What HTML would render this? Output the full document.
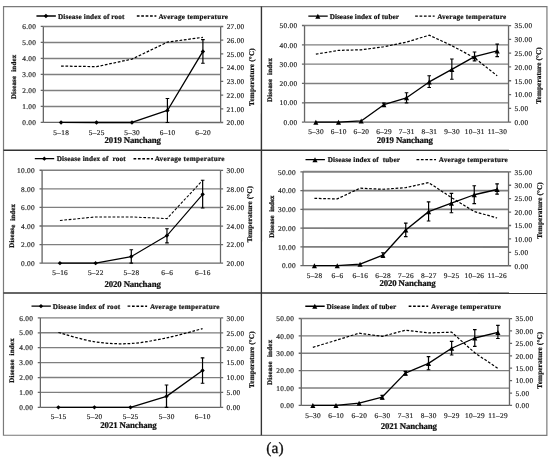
<!DOCTYPE html>
<html><head><meta charset="utf-8"><title>Disease index and average temperature, Nanchang 2019–2021</title>
<style>
html,body{margin:0;padding:0;background:#fff;}
body{width:550px;height:461px;overflow:hidden;}
svg{display:block;}
text{font-family:'Liberation Serif', 'Times New Roman', serif;text-rendering:geometricPrecision;}
.tk{font-size:7.3px;fill:#1e1e1e;letter-spacing:0.3px;stroke:#1e1e1e;stroke-width:0.18px;}
.lg{font-size:7.2px;font-weight:bold;fill:#111;stroke:#111;stroke-width:0.22px;}
.tt{font-size:8.8px;font-weight:bold;fill:#111;stroke:#111;stroke-width:0.22px;}
.at{font-size:7.2px;font-weight:bold;fill:#111;stroke:#111;stroke-width:0.22px;}
.at2{font-size:6.9px;font-weight:bold;fill:#111;stroke:#111;stroke-width:0.25px;}
.cap{font-size:15.5px;fill:#111;stroke:#111;stroke-width:0.3px;}
</style></head><body>
<svg width="550" height="461" viewBox="0 0 550 461">
<rect x="0" y="0" width="550" height="461" fill="#fff"/>
<g transform="rotate(0.01 275 230)">
<rect x="3.5" y="6.6" width="543.4" height="428.7" fill="none" stroke="#7a7a7a" stroke-width="1.2"/>
<line x1="261.4" y1="6.6" x2="261.4" y2="435.3" stroke="#333" stroke-width="1.4"/>
<line x1="3.5" y1="150.3" x2="546.9" y2="150.3" stroke="#333" stroke-width="1.4"/>
<line x1="3.5" y1="293.1" x2="546.9" y2="293.1" stroke="#333" stroke-width="1.5"/>
<line x1="43.30" y1="106.50" x2="220.60" y2="106.50" stroke="#7f7f7f" stroke-width="1.35"/>
<line x1="43.30" y1="90.50" x2="220.60" y2="90.50" stroke="#7f7f7f" stroke-width="1.35"/>
<line x1="43.30" y1="74.50" x2="220.60" y2="74.50" stroke="#7f7f7f" stroke-width="1.35"/>
<line x1="43.30" y1="58.50" x2="220.60" y2="58.50" stroke="#7f7f7f" stroke-width="1.35"/>
<line x1="43.30" y1="42.50" x2="220.60" y2="42.50" stroke="#7f7f7f" stroke-width="1.35"/>
<line x1="43.30" y1="26.50" x2="220.60" y2="26.50" stroke="#7f7f7f" stroke-width="1.35"/>
<line x1="43.30" y1="26.50" x2="43.30" y2="122.50" stroke="#666666" stroke-width="1.3"/>
<line x1="220.60" y1="26.50" x2="220.60" y2="122.50" stroke="#666666" stroke-width="1.3"/>
<line x1="43.30" y1="122.50" x2="220.60" y2="122.50" stroke="#666666" stroke-width="1.3"/>
<line x1="40.70" y1="122.50" x2="43.30" y2="122.50" stroke="#666666" stroke-width="1.3"/>
<text transform="translate(36.20,125.20)" class="tk" text-anchor="end" xml:space="preserve">0.00</text>
<line x1="40.70" y1="106.50" x2="43.30" y2="106.50" stroke="#666666" stroke-width="1.3"/>
<text transform="translate(36.20,109.20)" class="tk" text-anchor="end" xml:space="preserve">1.00</text>
<line x1="40.70" y1="90.50" x2="43.30" y2="90.50" stroke="#666666" stroke-width="1.3"/>
<text transform="translate(36.20,93.20)" class="tk" text-anchor="end" xml:space="preserve">2.00</text>
<line x1="40.70" y1="74.50" x2="43.30" y2="74.50" stroke="#666666" stroke-width="1.3"/>
<text transform="translate(36.20,77.20)" class="tk" text-anchor="end" xml:space="preserve">3.00</text>
<line x1="40.70" y1="58.50" x2="43.30" y2="58.50" stroke="#666666" stroke-width="1.3"/>
<text transform="translate(36.20,61.20)" class="tk" text-anchor="end" xml:space="preserve">4.00</text>
<line x1="40.70" y1="42.50" x2="43.30" y2="42.50" stroke="#666666" stroke-width="1.3"/>
<text transform="translate(36.20,45.20)" class="tk" text-anchor="end" xml:space="preserve">5.00</text>
<line x1="40.70" y1="26.50" x2="43.30" y2="26.50" stroke="#666666" stroke-width="1.3"/>
<text transform="translate(36.20,29.20)" class="tk" text-anchor="end" xml:space="preserve">6.00</text>
<line x1="220.60" y1="122.50" x2="223.20" y2="122.50" stroke="#666666" stroke-width="1.3"/>
<text transform="translate(226.60,125.30)" class="tk" xml:space="preserve">20.00</text>
<line x1="220.60" y1="108.79" x2="223.20" y2="108.79" stroke="#666666" stroke-width="1.3"/>
<text transform="translate(226.60,111.59)" class="tk" xml:space="preserve">21.00</text>
<line x1="220.60" y1="95.07" x2="223.20" y2="95.07" stroke="#666666" stroke-width="1.3"/>
<text transform="translate(226.60,97.87)" class="tk" xml:space="preserve">22.00</text>
<line x1="220.60" y1="81.36" x2="223.20" y2="81.36" stroke="#666666" stroke-width="1.3"/>
<text transform="translate(226.60,84.16)" class="tk" xml:space="preserve">23.00</text>
<line x1="220.60" y1="67.64" x2="223.20" y2="67.64" stroke="#666666" stroke-width="1.3"/>
<text transform="translate(226.60,70.44)" class="tk" xml:space="preserve">24.00</text>
<line x1="220.60" y1="53.93" x2="223.20" y2="53.93" stroke="#666666" stroke-width="1.3"/>
<text transform="translate(226.60,56.73)" class="tk" xml:space="preserve">25.00</text>
<line x1="220.60" y1="40.21" x2="223.20" y2="40.21" stroke="#666666" stroke-width="1.3"/>
<text transform="translate(226.60,43.01)" class="tk" xml:space="preserve">26.00</text>
<line x1="220.60" y1="26.50" x2="223.20" y2="26.50" stroke="#666666" stroke-width="1.3"/>
<text transform="translate(226.60,29.30)" class="tk" xml:space="preserve">27.00</text>
<text transform="translate(61.23,134.60)" class="tk" text-anchor="middle" xml:space="preserve">5–18</text>
<text transform="translate(96.69,134.60)" class="tk" text-anchor="middle" xml:space="preserve">5–25</text>
<text transform="translate(132.15,134.60)" class="tk" text-anchor="middle" xml:space="preserve">5–30</text>
<text transform="translate(167.61,134.60)" class="tk" text-anchor="middle" xml:space="preserve">6–10</text>
<text transform="translate(203.07,134.60)" class="tk" text-anchor="middle" xml:space="preserve">6–20</text>
<path d="M61.03,66.13 L96.49,66.68 L131.95,59.14 L167.41,42.13 L202.87,37.33" fill="none" stroke="#000" stroke-width="1.22" stroke-dasharray="2.7,1.7"/>
<line x1="167.41" y1="122.50" x2="167.41" y2="98.50" stroke="#000" stroke-width="1.2"/>
<line x1="165.61" y1="122.50" x2="169.21" y2="122.50" stroke="#000" stroke-width="1.15"/>
<line x1="165.61" y1="98.50" x2="169.21" y2="98.50" stroke="#000" stroke-width="1.15"/>
<line x1="202.87" y1="63.30" x2="202.87" y2="39.62" stroke="#000" stroke-width="1.2"/>
<line x1="201.07" y1="63.30" x2="204.67" y2="63.30" stroke="#000" stroke-width="1.15"/>
<line x1="201.07" y1="39.62" x2="204.67" y2="39.62" stroke="#000" stroke-width="1.15"/>
<polyline points="61.03,122.50 96.49,122.50 131.95,122.50 167.41,110.50 202.87,51.46" fill="none" stroke="#000" stroke-width="1.32" stroke-linejoin="round"/>
<polygon points="61.03,120.30 63.23,122.50 61.03,124.70 58.83,122.50" fill="#000"/>
<polygon points="96.49,120.30 98.69,122.50 96.49,124.70 94.29,122.50" fill="#000"/>
<polygon points="131.95,120.30 134.15,122.50 131.95,124.70 129.75,122.50" fill="#000"/>
<polygon points="167.41,108.30 169.61,110.50 167.41,112.70 165.21,110.50" fill="#000"/>
<polygon points="202.87,49.26 205.07,51.46 202.87,53.66 200.67,51.46" fill="#000"/>
<line x1="36.40" y1="16.00" x2="55.80" y2="16.00" stroke="#000" stroke-width="1.4"/>
<polygon points="45.90,13.80 48.10,16.00 45.90,18.20 43.70,16.00" fill="#000"/>
<text transform="translate(58.00,18.80)" class="lg" textLength="66.40" lengthAdjust="spacing" xml:space="preserve">Disease index of root</text>
<line x1="136.80" y1="16.00" x2="156.30" y2="16.00" stroke="#000" stroke-width="1.4" stroke-dasharray="2.7,1.7"/>
<text transform="translate(158.40,18.80)" class="lg" textLength="69.50" lengthAdjust="spacing" xml:space="preserve">Average temperature</text>
<text transform="translate(132.70,143.20)" class="tt" text-anchor="middle" textLength="56.20" lengthAdjust="spacing" xml:space="preserve">2019 Nanchang</text>
<text transform="translate(16.00,77.00) rotate(-90)" class="at2" text-anchor="middle" textLength="44.30" lengthAdjust="spacing" xml:space="preserve">Disease  index</text>
<text transform="translate(254.20,77.10) rotate(-90)" class="at" text-anchor="middle" textLength="57.60" lengthAdjust="spacing" xml:space="preserve">Temperature (°C)</text>
<line x1="304.50" y1="102.78" x2="508.50" y2="102.78" stroke="#7f7f7f" stroke-width="1.35"/>
<line x1="304.50" y1="83.46" x2="508.50" y2="83.46" stroke="#7f7f7f" stroke-width="1.35"/>
<line x1="304.50" y1="64.14" x2="508.50" y2="64.14" stroke="#7f7f7f" stroke-width="1.35"/>
<line x1="304.50" y1="44.82" x2="508.50" y2="44.82" stroke="#7f7f7f" stroke-width="1.35"/>
<line x1="304.50" y1="25.50" x2="508.50" y2="25.50" stroke="#7f7f7f" stroke-width="1.35"/>
<line x1="304.50" y1="25.50" x2="304.50" y2="122.10" stroke="#666666" stroke-width="1.3"/>
<line x1="508.50" y1="25.50" x2="508.50" y2="122.10" stroke="#666666" stroke-width="1.3"/>
<line x1="304.50" y1="122.10" x2="508.50" y2="122.10" stroke="#666666" stroke-width="1.3"/>
<line x1="301.90" y1="122.10" x2="304.50" y2="122.10" stroke="#666666" stroke-width="1.3"/>
<text transform="translate(297.40,124.80)" class="tk" text-anchor="end" xml:space="preserve">0.00</text>
<line x1="301.90" y1="102.78" x2="304.50" y2="102.78" stroke="#666666" stroke-width="1.3"/>
<text transform="translate(297.40,105.48)" class="tk" text-anchor="end" xml:space="preserve">10.00</text>
<line x1="301.90" y1="83.46" x2="304.50" y2="83.46" stroke="#666666" stroke-width="1.3"/>
<text transform="translate(297.40,86.16)" class="tk" text-anchor="end" xml:space="preserve">20.00</text>
<line x1="301.90" y1="64.14" x2="304.50" y2="64.14" stroke="#666666" stroke-width="1.3"/>
<text transform="translate(297.40,66.84)" class="tk" text-anchor="end" xml:space="preserve">30.00</text>
<line x1="301.90" y1="44.82" x2="304.50" y2="44.82" stroke="#666666" stroke-width="1.3"/>
<text transform="translate(297.40,47.52)" class="tk" text-anchor="end" xml:space="preserve">40.00</text>
<line x1="301.90" y1="25.50" x2="304.50" y2="25.50" stroke="#666666" stroke-width="1.3"/>
<text transform="translate(297.40,28.20)" class="tk" text-anchor="end" xml:space="preserve">50.00</text>
<line x1="508.50" y1="122.10" x2="511.10" y2="122.10" stroke="#666666" stroke-width="1.3"/>
<text transform="translate(514.50,124.90)" class="tk" xml:space="preserve">0.00</text>
<line x1="508.50" y1="108.30" x2="511.10" y2="108.30" stroke="#666666" stroke-width="1.3"/>
<text transform="translate(514.50,111.10)" class="tk" xml:space="preserve">5.00</text>
<line x1="508.50" y1="94.50" x2="511.10" y2="94.50" stroke="#666666" stroke-width="1.3"/>
<text transform="translate(514.50,97.30)" class="tk" xml:space="preserve">10.00</text>
<line x1="508.50" y1="80.70" x2="511.10" y2="80.70" stroke="#666666" stroke-width="1.3"/>
<text transform="translate(514.50,83.50)" class="tk" xml:space="preserve">15.00</text>
<line x1="508.50" y1="66.90" x2="511.10" y2="66.90" stroke="#666666" stroke-width="1.3"/>
<text transform="translate(514.50,69.70)" class="tk" xml:space="preserve">20.00</text>
<line x1="508.50" y1="53.10" x2="511.10" y2="53.10" stroke="#666666" stroke-width="1.3"/>
<text transform="translate(514.50,55.90)" class="tk" xml:space="preserve">25.00</text>
<line x1="508.50" y1="39.30" x2="511.10" y2="39.30" stroke="#666666" stroke-width="1.3"/>
<text transform="translate(514.50,42.10)" class="tk" xml:space="preserve">30.00</text>
<line x1="508.50" y1="25.50" x2="511.10" y2="25.50" stroke="#666666" stroke-width="1.3"/>
<text transform="translate(514.50,28.30)" class="tk" xml:space="preserve">35.00</text>
<text transform="translate(316.03,134.20)" class="tk" text-anchor="middle" xml:space="preserve">5–30</text>
<text transform="translate(338.70,134.20)" class="tk" text-anchor="middle" xml:space="preserve">6–10</text>
<text transform="translate(361.37,134.20)" class="tk" text-anchor="middle" xml:space="preserve">6–20</text>
<text transform="translate(384.03,134.20)" class="tk" text-anchor="middle" xml:space="preserve">6–29</text>
<text transform="translate(406.70,134.20)" class="tk" text-anchor="middle" xml:space="preserve">7–31</text>
<text transform="translate(429.37,134.20)" class="tk" text-anchor="middle" xml:space="preserve">8–31</text>
<text transform="translate(452.03,134.20)" class="tk" text-anchor="middle" xml:space="preserve">9–30</text>
<text transform="translate(474.70,134.20)" class="tk" text-anchor="middle" xml:space="preserve">10–31</text>
<text transform="translate(497.37,134.20)" class="tk" text-anchor="middle" xml:space="preserve">11–30</text>
<path d="M315.83,54.20 L338.50,50.34 L361.17,49.79 L383.83,46.75 L406.50,42.06 L429.17,35.16 L451.83,45.65 L474.50,57.79 L497.17,75.73" fill="none" stroke="#000" stroke-width="1.22" stroke-dasharray="2.7,1.7"/>
<line x1="383.83" y1="106.26" x2="383.83" y2="103.17" stroke="#000" stroke-width="1.2"/>
<line x1="382.03" y1="106.26" x2="385.63" y2="106.26" stroke="#000" stroke-width="1.15"/>
<line x1="382.03" y1="103.17" x2="385.63" y2="103.17" stroke="#000" stroke-width="1.15"/>
<line x1="406.50" y1="102.78" x2="406.50" y2="92.73" stroke="#000" stroke-width="1.2"/>
<line x1="404.70" y1="102.78" x2="408.30" y2="102.78" stroke="#000" stroke-width="1.15"/>
<line x1="404.70" y1="92.73" x2="408.30" y2="92.73" stroke="#000" stroke-width="1.15"/>
<line x1="429.17" y1="87.52" x2="429.17" y2="75.73" stroke="#000" stroke-width="1.2"/>
<line x1="427.37" y1="87.52" x2="430.97" y2="87.52" stroke="#000" stroke-width="1.15"/>
<line x1="427.37" y1="75.73" x2="430.97" y2="75.73" stroke="#000" stroke-width="1.15"/>
<line x1="451.83" y1="79.21" x2="451.83" y2="58.92" stroke="#000" stroke-width="1.2"/>
<line x1="450.03" y1="79.21" x2="453.63" y2="79.21" stroke="#000" stroke-width="1.15"/>
<line x1="450.03" y1="58.92" x2="453.63" y2="58.92" stroke="#000" stroke-width="1.15"/>
<line x1="474.50" y1="60.86" x2="474.50" y2="51.97" stroke="#000" stroke-width="1.2"/>
<line x1="472.70" y1="60.86" x2="476.30" y2="60.86" stroke="#000" stroke-width="1.15"/>
<line x1="472.70" y1="51.97" x2="476.30" y2="51.97" stroke="#000" stroke-width="1.15"/>
<line x1="497.17" y1="56.61" x2="497.17" y2="44.05" stroke="#000" stroke-width="1.2"/>
<line x1="495.37" y1="56.61" x2="498.97" y2="56.61" stroke="#000" stroke-width="1.15"/>
<line x1="495.37" y1="44.05" x2="498.97" y2="44.05" stroke="#000" stroke-width="1.15"/>
<polyline points="315.83,122.10 338.50,122.10 361.17,120.94 383.83,104.71 406.50,97.76 429.17,81.91 451.83,69.36 474.50,56.61 497.17,50.81" fill="none" stroke="#000" stroke-width="1.32" stroke-linejoin="round"/>
<polygon points="315.83,119.68 318.38,124.65 313.28,124.65" fill="#000"/>
<polygon points="338.50,119.68 341.05,124.65 335.95,124.65" fill="#000"/>
<polygon points="361.17,118.52 363.72,123.49 358.62,123.49" fill="#000"/>
<polygon points="383.83,102.29 386.38,107.26 381.28,107.26" fill="#000"/>
<polygon points="406.50,95.33 409.05,100.31 403.95,100.31" fill="#000"/>
<polygon points="429.17,79.49 431.72,84.46 426.62,84.46" fill="#000"/>
<polygon points="451.83,66.93 454.38,71.91 449.28,71.91" fill="#000"/>
<polygon points="474.50,54.18 477.05,59.16 471.95,59.16" fill="#000"/>
<polygon points="497.17,48.39 499.72,53.36 494.62,53.36" fill="#000"/>
<line x1="308.30" y1="16.10" x2="327.70" y2="16.10" stroke="#000" stroke-width="1.4"/>
<polygon points="317.80,13.68 320.35,18.65 315.25,18.65" fill="#000"/>
<text transform="translate(329.60,18.90)" class="lg" textLength="69.30" lengthAdjust="spacing" xml:space="preserve">Disease index of tuber</text>
<line x1="415.10" y1="16.10" x2="434.60" y2="16.10" stroke="#000" stroke-width="1.4" stroke-dasharray="2.7,1.7"/>
<text transform="translate(437.10,18.90)" class="lg" textLength="69.10" lengthAdjust="spacing" xml:space="preserve">Average temperature</text>
<text transform="translate(404.90,143.30)" class="tt" text-anchor="middle" textLength="56.20" lengthAdjust="spacing" xml:space="preserve">2019 Nanchang</text>
<text transform="translate(272.40,80.00) rotate(-90)" class="at2" text-anchor="middle" textLength="43.90" lengthAdjust="spacing" xml:space="preserve">Disease  index</text>
<text transform="translate(541.40,75.50) rotate(-90)" class="at" text-anchor="middle" textLength="56.30" lengthAdjust="spacing" xml:space="preserve">Temperature (°C)</text>
<line x1="42.10" y1="244.62" x2="220.50" y2="244.62" stroke="#7f7f7f" stroke-width="1.35"/>
<line x1="42.10" y1="226.04" x2="220.50" y2="226.04" stroke="#7f7f7f" stroke-width="1.35"/>
<line x1="42.10" y1="207.46" x2="220.50" y2="207.46" stroke="#7f7f7f" stroke-width="1.35"/>
<line x1="42.10" y1="188.88" x2="220.50" y2="188.88" stroke="#7f7f7f" stroke-width="1.35"/>
<line x1="42.10" y1="170.30" x2="220.50" y2="170.30" stroke="#7f7f7f" stroke-width="1.35"/>
<line x1="42.10" y1="170.30" x2="42.10" y2="263.20" stroke="#666666" stroke-width="1.3"/>
<line x1="220.50" y1="170.30" x2="220.50" y2="263.20" stroke="#666666" stroke-width="1.3"/>
<line x1="42.10" y1="263.20" x2="220.50" y2="263.20" stroke="#666666" stroke-width="1.3"/>
<line x1="39.50" y1="263.20" x2="42.10" y2="263.20" stroke="#666666" stroke-width="1.3"/>
<text transform="translate(35.00,265.90)" class="tk" text-anchor="end" xml:space="preserve">0.00</text>
<line x1="39.50" y1="244.62" x2="42.10" y2="244.62" stroke="#666666" stroke-width="1.3"/>
<text transform="translate(35.00,247.32)" class="tk" text-anchor="end" xml:space="preserve">2.00</text>
<line x1="39.50" y1="226.04" x2="42.10" y2="226.04" stroke="#666666" stroke-width="1.3"/>
<text transform="translate(35.00,228.74)" class="tk" text-anchor="end" xml:space="preserve">4.00</text>
<line x1="39.50" y1="207.46" x2="42.10" y2="207.46" stroke="#666666" stroke-width="1.3"/>
<text transform="translate(35.00,210.16)" class="tk" text-anchor="end" xml:space="preserve">6.00</text>
<line x1="39.50" y1="188.88" x2="42.10" y2="188.88" stroke="#666666" stroke-width="1.3"/>
<text transform="translate(35.00,191.58)" class="tk" text-anchor="end" xml:space="preserve">8.00</text>
<line x1="39.50" y1="170.30" x2="42.10" y2="170.30" stroke="#666666" stroke-width="1.3"/>
<text transform="translate(35.00,173.00)" class="tk" text-anchor="end" xml:space="preserve">10.00</text>
<line x1="220.50" y1="263.20" x2="223.10" y2="263.20" stroke="#666666" stroke-width="1.3"/>
<text transform="translate(226.50,266.00)" class="tk" xml:space="preserve">20.00</text>
<line x1="220.50" y1="244.62" x2="223.10" y2="244.62" stroke="#666666" stroke-width="1.3"/>
<text transform="translate(226.50,247.42)" class="tk" xml:space="preserve">22.00</text>
<line x1="220.50" y1="226.04" x2="223.10" y2="226.04" stroke="#666666" stroke-width="1.3"/>
<text transform="translate(226.50,228.84)" class="tk" xml:space="preserve">24.00</text>
<line x1="220.50" y1="207.46" x2="223.10" y2="207.46" stroke="#666666" stroke-width="1.3"/>
<text transform="translate(226.50,210.26)" class="tk" xml:space="preserve">26.00</text>
<line x1="220.50" y1="188.88" x2="223.10" y2="188.88" stroke="#666666" stroke-width="1.3"/>
<text transform="translate(226.50,191.68)" class="tk" xml:space="preserve">28.00</text>
<line x1="220.50" y1="170.30" x2="223.10" y2="170.30" stroke="#666666" stroke-width="1.3"/>
<text transform="translate(226.50,173.10)" class="tk" xml:space="preserve">30.00</text>
<text transform="translate(60.14,275.30)" class="tk" text-anchor="middle" xml:space="preserve">5–16</text>
<text transform="translate(95.82,275.30)" class="tk" text-anchor="middle" xml:space="preserve">5–22</text>
<text transform="translate(131.50,275.30)" class="tk" text-anchor="middle" xml:space="preserve">5–28</text>
<text transform="translate(167.18,275.30)" class="tk" text-anchor="middle" xml:space="preserve">6–6</text>
<text transform="translate(202.86,275.30)" class="tk" text-anchor="middle" xml:space="preserve">6–16</text>
<path d="M59.94,220.56 L95.62,216.94 L131.30,216.94 L166.98,218.61 L202.66,180.24" fill="none" stroke="#000" stroke-width="1.05" stroke-dasharray="2.7,1.7"/>
<line x1="131.30" y1="263.20" x2="131.30" y2="249.73" stroke="#000" stroke-width="1.2"/>
<line x1="129.50" y1="263.20" x2="133.10" y2="263.20" stroke="#000" stroke-width="1.15"/>
<line x1="129.50" y1="249.73" x2="133.10" y2="249.73" stroke="#000" stroke-width="1.15"/>
<line x1="166.98" y1="242.95" x2="166.98" y2="228.73" stroke="#000" stroke-width="1.2"/>
<line x1="165.18" y1="242.95" x2="168.78" y2="242.95" stroke="#000" stroke-width="1.15"/>
<line x1="165.18" y1="228.73" x2="168.78" y2="228.73" stroke="#000" stroke-width="1.15"/>
<line x1="202.66" y1="208.02" x2="202.66" y2="180.24" stroke="#000" stroke-width="1.2"/>
<line x1="200.86" y1="208.02" x2="204.46" y2="208.02" stroke="#000" stroke-width="1.15"/>
<line x1="200.86" y1="180.24" x2="204.46" y2="180.24" stroke="#000" stroke-width="1.15"/>
<polyline points="59.94,263.20 95.62,263.20 131.30,256.60 166.98,235.61 202.66,194.36" fill="none" stroke="#000" stroke-width="1.15" stroke-linejoin="round"/>
<polygon points="59.94,261.00 62.14,263.20 59.94,265.40 57.74,263.20" fill="#000"/>
<polygon points="95.62,261.00 97.82,263.20 95.62,265.40 93.42,263.20" fill="#000"/>
<polygon points="131.30,254.40 133.50,256.60 131.30,258.80 129.10,256.60" fill="#000"/>
<polygon points="166.98,233.41 169.18,235.61 166.98,237.81 164.78,235.61" fill="#000"/>
<polygon points="202.66,192.16 204.86,194.36 202.66,196.56 200.46,194.36" fill="#000"/>
<line x1="34.80" y1="158.70" x2="54.20" y2="158.70" stroke="#000" stroke-width="1.4"/>
<polygon points="44.30,156.50 46.50,158.70 44.30,160.90 42.10,158.70" fill="#000"/>
<text transform="translate(56.70,161.50)" class="lg" textLength="68.90" lengthAdjust="spacing" xml:space="preserve">Disease index of  root</text>
<line x1="133.50" y1="158.70" x2="153.00" y2="158.70" stroke="#000" stroke-width="1.4" stroke-dasharray="2.7,1.7"/>
<text transform="translate(154.70,161.50)" class="lg" textLength="69.80" lengthAdjust="spacing" xml:space="preserve">Average temperature</text>
<text transform="translate(132.70,286.60)" class="tt" text-anchor="middle" textLength="56.20" lengthAdjust="spacing" xml:space="preserve">2020 Nanchang</text>
<text transform="translate(14.50,225.90) rotate(-90)" class="at2" text-anchor="middle" textLength="43.60" lengthAdjust="spacing" xml:space="preserve">Disease  index</text>
<text transform="translate(252.40,214.20) rotate(-90)" class="at" text-anchor="middle" textLength="56.30" lengthAdjust="spacing" xml:space="preserve">Temperature (°C)</text>
<line x1="303.00" y1="246.92" x2="508.50" y2="246.92" stroke="#7f7f7f" stroke-width="1.9"/>
<line x1="303.00" y1="228.14" x2="508.50" y2="228.14" stroke="#7f7f7f" stroke-width="1.9"/>
<line x1="303.00" y1="209.36" x2="508.50" y2="209.36" stroke="#7f7f7f" stroke-width="1.9"/>
<line x1="303.00" y1="190.58" x2="508.50" y2="190.58" stroke="#7f7f7f" stroke-width="1.9"/>
<line x1="303.00" y1="171.80" x2="508.50" y2="171.80" stroke="#7f7f7f" stroke-width="1.9"/>
<line x1="303.00" y1="171.80" x2="303.00" y2="265.70" stroke="#666666" stroke-width="1.3"/>
<line x1="508.50" y1="171.80" x2="508.50" y2="265.70" stroke="#666666" stroke-width="1.3"/>
<line x1="303.00" y1="265.70" x2="508.50" y2="265.70" stroke="#666666" stroke-width="1.3"/>
<line x1="300.40" y1="265.70" x2="303.00" y2="265.70" stroke="#666666" stroke-width="1.3"/>
<text transform="translate(295.90,268.40)" class="tk" text-anchor="end" xml:space="preserve">0.00</text>
<line x1="300.40" y1="246.92" x2="303.00" y2="246.92" stroke="#666666" stroke-width="1.3"/>
<text transform="translate(295.90,249.62)" class="tk" text-anchor="end" xml:space="preserve">10.00</text>
<line x1="300.40" y1="228.14" x2="303.00" y2="228.14" stroke="#666666" stroke-width="1.3"/>
<text transform="translate(295.90,230.84)" class="tk" text-anchor="end" xml:space="preserve">20.00</text>
<line x1="300.40" y1="209.36" x2="303.00" y2="209.36" stroke="#666666" stroke-width="1.3"/>
<text transform="translate(295.90,212.06)" class="tk" text-anchor="end" xml:space="preserve">30.00</text>
<line x1="300.40" y1="190.58" x2="303.00" y2="190.58" stroke="#666666" stroke-width="1.3"/>
<text transform="translate(295.90,193.28)" class="tk" text-anchor="end" xml:space="preserve">40.00</text>
<line x1="300.40" y1="171.80" x2="303.00" y2="171.80" stroke="#666666" stroke-width="1.3"/>
<text transform="translate(295.90,174.50)" class="tk" text-anchor="end" xml:space="preserve">50.00</text>
<line x1="508.50" y1="265.70" x2="511.10" y2="265.70" stroke="#666666" stroke-width="1.3"/>
<text transform="translate(514.50,268.50)" class="tk" xml:space="preserve">0.00</text>
<line x1="508.50" y1="252.29" x2="511.10" y2="252.29" stroke="#666666" stroke-width="1.3"/>
<text transform="translate(514.50,255.09)" class="tk" xml:space="preserve">5.00</text>
<line x1="508.50" y1="238.87" x2="511.10" y2="238.87" stroke="#666666" stroke-width="1.3"/>
<text transform="translate(514.50,241.67)" class="tk" xml:space="preserve">10.00</text>
<line x1="508.50" y1="225.46" x2="511.10" y2="225.46" stroke="#666666" stroke-width="1.3"/>
<text transform="translate(514.50,228.26)" class="tk" xml:space="preserve">15.00</text>
<line x1="508.50" y1="212.04" x2="511.10" y2="212.04" stroke="#666666" stroke-width="1.3"/>
<text transform="translate(514.50,214.84)" class="tk" xml:space="preserve">20.00</text>
<line x1="508.50" y1="198.63" x2="511.10" y2="198.63" stroke="#666666" stroke-width="1.3"/>
<text transform="translate(514.50,201.43)" class="tk" xml:space="preserve">25.00</text>
<line x1="508.50" y1="185.21" x2="511.10" y2="185.21" stroke="#666666" stroke-width="1.3"/>
<text transform="translate(514.50,188.01)" class="tk" xml:space="preserve">30.00</text>
<line x1="508.50" y1="171.80" x2="511.10" y2="171.80" stroke="#666666" stroke-width="1.3"/>
<text transform="translate(514.50,174.60)" class="tk" xml:space="preserve">35.00</text>
<text transform="translate(314.62,277.80)" class="tk" text-anchor="middle" xml:space="preserve">5–28</text>
<text transform="translate(337.45,277.80)" class="tk" text-anchor="middle" xml:space="preserve">6–6</text>
<text transform="translate(360.28,277.80)" class="tk" text-anchor="middle" xml:space="preserve">6–16</text>
<text transform="translate(383.12,277.80)" class="tk" text-anchor="middle" xml:space="preserve">6–28</text>
<text transform="translate(405.95,277.80)" class="tk" text-anchor="middle" xml:space="preserve">7–26</text>
<text transform="translate(428.78,277.80)" class="tk" text-anchor="middle" xml:space="preserve">8–27</text>
<text transform="translate(451.62,277.80)" class="tk" text-anchor="middle" xml:space="preserve">9–25</text>
<text transform="translate(474.45,277.80)" class="tk" text-anchor="middle" xml:space="preserve">10–26</text>
<text transform="translate(497.28,277.80)" class="tk" text-anchor="middle" xml:space="preserve">11–26</text>
<path d="M314.42,198.36 L337.25,198.90 L360.08,188.17 L382.92,189.24 L405.75,187.63 L428.58,182.53 L451.42,197.56 L474.25,211.51 L497.08,217.95" fill="none" stroke="#000" stroke-width="1.22" stroke-dasharray="2.7,1.7"/>
<line x1="382.92" y1="257.44" x2="382.92" y2="252.74" stroke="#000" stroke-width="1.2"/>
<line x1="381.12" y1="257.44" x2="384.72" y2="257.44" stroke="#000" stroke-width="1.15"/>
<line x1="381.12" y1="252.74" x2="384.72" y2="252.74" stroke="#000" stroke-width="1.15"/>
<line x1="405.75" y1="236.59" x2="405.75" y2="223.07" stroke="#000" stroke-width="1.2"/>
<line x1="403.95" y1="236.59" x2="407.55" y2="236.59" stroke="#000" stroke-width="1.15"/>
<line x1="403.95" y1="223.07" x2="407.55" y2="223.07" stroke="#000" stroke-width="1.15"/>
<line x1="428.58" y1="221.00" x2="428.58" y2="201.85" stroke="#000" stroke-width="1.2"/>
<line x1="426.78" y1="221.00" x2="430.38" y2="221.00" stroke="#000" stroke-width="1.15"/>
<line x1="426.78" y1="201.85" x2="430.38" y2="201.85" stroke="#000" stroke-width="1.15"/>
<line x1="451.42" y1="212.74" x2="451.42" y2="193.40" stroke="#000" stroke-width="1.2"/>
<line x1="449.62" y1="212.74" x2="453.22" y2="212.74" stroke="#000" stroke-width="1.15"/>
<line x1="449.62" y1="193.40" x2="453.22" y2="193.40" stroke="#000" stroke-width="1.15"/>
<line x1="474.25" y1="203.54" x2="474.25" y2="185.70" stroke="#000" stroke-width="1.2"/>
<line x1="472.45" y1="203.54" x2="476.05" y2="203.54" stroke="#000" stroke-width="1.15"/>
<line x1="472.45" y1="185.70" x2="476.05" y2="185.70" stroke="#000" stroke-width="1.15"/>
<line x1="497.08" y1="194.15" x2="497.08" y2="183.82" stroke="#000" stroke-width="1.2"/>
<line x1="495.28" y1="194.15" x2="498.88" y2="194.15" stroke="#000" stroke-width="1.15"/>
<line x1="495.28" y1="183.82" x2="498.88" y2="183.82" stroke="#000" stroke-width="1.15"/>
<polyline points="314.42,265.70 337.25,265.70 360.08,264.20 382.92,255.18 405.75,230.02 428.58,211.61 451.42,203.16 474.25,194.71 497.08,189.45" fill="none" stroke="#000" stroke-width="1.32" stroke-linejoin="round"/>
<polygon points="314.42,263.28 316.97,268.25 311.87,268.25" fill="#000"/>
<polygon points="337.25,263.28 339.80,268.25 334.70,268.25" fill="#000"/>
<polygon points="360.08,261.78 362.63,266.75 357.53,266.75" fill="#000"/>
<polygon points="382.92,252.76 385.47,257.73 380.37,257.73" fill="#000"/>
<polygon points="405.75,227.60 408.30,232.57 403.20,232.57" fill="#000"/>
<polygon points="428.58,209.19 431.13,214.16 426.03,214.16" fill="#000"/>
<polygon points="451.42,200.74 453.97,205.71 448.87,205.71" fill="#000"/>
<polygon points="474.25,192.29 476.80,197.26 471.70,197.26" fill="#000"/>
<polygon points="497.08,187.03 499.63,192.00 494.53,192.00" fill="#000"/>
<line x1="305.50" y1="159.60" x2="324.90" y2="159.60" stroke="#000" stroke-width="1.4"/>
<polygon points="315.00,157.18 317.55,162.15 312.45,162.15" fill="#000"/>
<text transform="translate(327.80,162.40)" class="lg" textLength="72.10" lengthAdjust="spacing" xml:space="preserve">Disease index of  tuber</text>
<line x1="416.50" y1="159.60" x2="436.00" y2="159.60" stroke="#000" stroke-width="1.4" stroke-dasharray="2.7,1.7"/>
<text transform="translate(438.80,162.40)" class="lg" textLength="68.90" lengthAdjust="spacing" xml:space="preserve">Average temperature</text>
<text transform="translate(407.50,286.40)" class="tt" text-anchor="middle" textLength="56.20" lengthAdjust="spacing" xml:space="preserve">2020 Nanchang</text>
<text transform="translate(274.00,216.60) rotate(-90)" class="at2" text-anchor="middle" textLength="42.20" lengthAdjust="spacing" xml:space="preserve">Disease  index</text>
<text transform="translate(542.10,210.50) rotate(-90)" class="at" text-anchor="middle" textLength="56.40" lengthAdjust="spacing" xml:space="preserve">Temperature (°C)</text>
<line x1="40.40" y1="392.48" x2="220.60" y2="392.48" stroke="#7f7f7f" stroke-width="1.35"/>
<line x1="40.40" y1="377.57" x2="220.60" y2="377.57" stroke="#7f7f7f" stroke-width="1.35"/>
<line x1="40.40" y1="362.65" x2="220.60" y2="362.65" stroke="#7f7f7f" stroke-width="1.35"/>
<line x1="40.40" y1="347.73" x2="220.60" y2="347.73" stroke="#7f7f7f" stroke-width="1.35"/>
<line x1="40.40" y1="332.82" x2="220.60" y2="332.82" stroke="#7f7f7f" stroke-width="1.35"/>
<line x1="40.40" y1="317.90" x2="220.60" y2="317.90" stroke="#7f7f7f" stroke-width="1.35"/>
<line x1="40.40" y1="317.90" x2="40.40" y2="407.40" stroke="#666666" stroke-width="1.3"/>
<line x1="220.60" y1="317.90" x2="220.60" y2="407.40" stroke="#666666" stroke-width="1.3"/>
<line x1="40.40" y1="407.40" x2="220.60" y2="407.40" stroke="#666666" stroke-width="1.3"/>
<line x1="37.80" y1="407.40" x2="40.40" y2="407.40" stroke="#666666" stroke-width="1.3"/>
<text transform="translate(33.30,410.10)" class="tk" text-anchor="end" xml:space="preserve">0.00</text>
<line x1="37.80" y1="392.48" x2="40.40" y2="392.48" stroke="#666666" stroke-width="1.3"/>
<text transform="translate(33.30,395.18)" class="tk" text-anchor="end" xml:space="preserve">1.00</text>
<line x1="37.80" y1="377.57" x2="40.40" y2="377.57" stroke="#666666" stroke-width="1.3"/>
<text transform="translate(33.30,380.27)" class="tk" text-anchor="end" xml:space="preserve">2.00</text>
<line x1="37.80" y1="362.65" x2="40.40" y2="362.65" stroke="#666666" stroke-width="1.3"/>
<text transform="translate(33.30,365.35)" class="tk" text-anchor="end" xml:space="preserve">3.00</text>
<line x1="37.80" y1="347.73" x2="40.40" y2="347.73" stroke="#666666" stroke-width="1.3"/>
<text transform="translate(33.30,350.43)" class="tk" text-anchor="end" xml:space="preserve">4.00</text>
<line x1="37.80" y1="332.82" x2="40.40" y2="332.82" stroke="#666666" stroke-width="1.3"/>
<text transform="translate(33.30,335.52)" class="tk" text-anchor="end" xml:space="preserve">5.00</text>
<line x1="37.80" y1="317.90" x2="40.40" y2="317.90" stroke="#666666" stroke-width="1.3"/>
<text transform="translate(33.30,320.60)" class="tk" text-anchor="end" xml:space="preserve">6.00</text>
<line x1="220.60" y1="407.40" x2="223.20" y2="407.40" stroke="#666666" stroke-width="1.3"/>
<text transform="translate(226.60,410.20)" class="tk" xml:space="preserve">0.00</text>
<line x1="220.60" y1="392.48" x2="223.20" y2="392.48" stroke="#666666" stroke-width="1.3"/>
<text transform="translate(226.60,395.28)" class="tk" xml:space="preserve">5.00</text>
<line x1="220.60" y1="377.57" x2="223.20" y2="377.57" stroke="#666666" stroke-width="1.3"/>
<text transform="translate(226.60,380.37)" class="tk" xml:space="preserve">10.00</text>
<line x1="220.60" y1="362.65" x2="223.20" y2="362.65" stroke="#666666" stroke-width="1.3"/>
<text transform="translate(226.60,365.45)" class="tk" xml:space="preserve">15.00</text>
<line x1="220.60" y1="347.73" x2="223.20" y2="347.73" stroke="#666666" stroke-width="1.3"/>
<text transform="translate(226.60,350.53)" class="tk" xml:space="preserve">20.00</text>
<line x1="220.60" y1="332.82" x2="223.20" y2="332.82" stroke="#666666" stroke-width="1.3"/>
<text transform="translate(226.60,335.62)" class="tk" xml:space="preserve">25.00</text>
<line x1="220.60" y1="317.90" x2="223.20" y2="317.90" stroke="#666666" stroke-width="1.3"/>
<text transform="translate(226.60,320.70)" class="tk" xml:space="preserve">30.00</text>
<text transform="translate(58.62,419.50)" class="tk" text-anchor="middle" xml:space="preserve">5–15</text>
<text transform="translate(94.66,419.50)" class="tk" text-anchor="middle" xml:space="preserve">5–20</text>
<text transform="translate(130.70,419.50)" class="tk" text-anchor="middle" xml:space="preserve">5–25</text>
<text transform="translate(166.74,419.50)" class="tk" text-anchor="middle" xml:space="preserve">5–30</text>
<text transform="translate(202.78,419.50)" class="tk" text-anchor="middle" xml:space="preserve">6–10</text>
<path d="M58.42,332.52 C64.43,334.06 82.45,339.93 94.46,341.77 C106.47,343.61 118.49,344.20 130.50,343.56 C142.51,342.91 154.53,340.37 166.54,337.89 C178.55,335.40 196.57,330.18 202.58,328.64" fill="none" stroke="#000" stroke-width="1.22" stroke-dasharray="2.7,1.7"/>
<line x1="166.54" y1="407.40" x2="166.54" y2="385.02" stroke="#000" stroke-width="1.2"/>
<line x1="164.74" y1="407.40" x2="168.34" y2="407.40" stroke="#000" stroke-width="1.15"/>
<line x1="164.74" y1="385.02" x2="168.34" y2="385.02" stroke="#000" stroke-width="1.15"/>
<line x1="202.58" y1="383.23" x2="202.58" y2="357.88" stroke="#000" stroke-width="1.2"/>
<line x1="200.78" y1="383.23" x2="204.38" y2="383.23" stroke="#000" stroke-width="1.15"/>
<line x1="200.78" y1="357.88" x2="204.38" y2="357.88" stroke="#000" stroke-width="1.15"/>
<polyline points="58.42,407.40 94.46,407.40 130.50,407.40 166.54,396.36 202.58,370.56" fill="none" stroke="#000" stroke-width="1.32" stroke-linejoin="round"/>
<polygon points="58.42,405.20 60.62,407.40 58.42,409.60 56.22,407.40" fill="#000"/>
<polygon points="94.46,405.20 96.66,407.40 94.46,409.60 92.26,407.40" fill="#000"/>
<polygon points="130.50,405.20 132.70,407.40 130.50,409.60 128.30,407.40" fill="#000"/>
<polygon points="166.54,394.16 168.74,396.36 166.54,398.56 164.34,396.36" fill="#000"/>
<polygon points="202.58,368.36 204.78,370.56 202.58,372.76 200.38,370.56" fill="#000"/>
<line x1="31.50" y1="306.20" x2="50.90" y2="306.20" stroke="#000" stroke-width="1.4"/>
<polygon points="41.00,304.00 43.20,306.20 41.00,308.40 38.80,306.20" fill="#000"/>
<text transform="translate(52.80,309.00)" class="lg" textLength="67.30" lengthAdjust="spacing" xml:space="preserve">Disease index of root</text>
<line x1="127.60" y1="306.20" x2="147.10" y2="306.20" stroke="#000" stroke-width="1.4" stroke-dasharray="2.7,1.7"/>
<text transform="translate(149.90,309.00)" class="lg" textLength="69.60" lengthAdjust="spacing" xml:space="preserve">Average temperature</text>
<text transform="translate(128.50,428.00)" class="tt" text-anchor="middle" textLength="56.20" lengthAdjust="spacing" xml:space="preserve">2021 Nanchang</text>
<text transform="translate(14.00,360.60) rotate(-90)" class="at2" text-anchor="middle" textLength="44.30" lengthAdjust="spacing" xml:space="preserve">Disease  index</text>
<text transform="translate(254.20,359.70) rotate(-90)" class="at" text-anchor="middle" textLength="56.50" lengthAdjust="spacing" xml:space="preserve">Temperature (°C)</text>
<line x1="301.30" y1="388.02" x2="509.50" y2="388.02" stroke="#7f7f7f" stroke-width="1.35"/>
<line x1="301.30" y1="370.64" x2="509.50" y2="370.64" stroke="#7f7f7f" stroke-width="1.35"/>
<line x1="301.30" y1="353.26" x2="509.50" y2="353.26" stroke="#7f7f7f" stroke-width="1.35"/>
<line x1="301.30" y1="335.88" x2="509.50" y2="335.88" stroke="#7f7f7f" stroke-width="1.35"/>
<line x1="301.30" y1="318.50" x2="509.50" y2="318.50" stroke="#7f7f7f" stroke-width="1.35"/>
<line x1="301.30" y1="318.50" x2="301.30" y2="405.40" stroke="#666666" stroke-width="1.3"/>
<line x1="509.50" y1="318.50" x2="509.50" y2="405.40" stroke="#666666" stroke-width="1.3"/>
<line x1="301.30" y1="405.40" x2="509.50" y2="405.40" stroke="#666666" stroke-width="1.3"/>
<line x1="298.70" y1="405.40" x2="301.30" y2="405.40" stroke="#666666" stroke-width="1.3"/>
<text transform="translate(294.20,408.10)" class="tk" text-anchor="end" xml:space="preserve">0.00</text>
<line x1="298.70" y1="388.02" x2="301.30" y2="388.02" stroke="#666666" stroke-width="1.3"/>
<text transform="translate(294.20,390.72)" class="tk" text-anchor="end" xml:space="preserve">10.00</text>
<line x1="298.70" y1="370.64" x2="301.30" y2="370.64" stroke="#666666" stroke-width="1.3"/>
<text transform="translate(294.20,373.34)" class="tk" text-anchor="end" xml:space="preserve">20.00</text>
<line x1="298.70" y1="353.26" x2="301.30" y2="353.26" stroke="#666666" stroke-width="1.3"/>
<text transform="translate(294.20,355.96)" class="tk" text-anchor="end" xml:space="preserve">30.00</text>
<line x1="298.70" y1="335.88" x2="301.30" y2="335.88" stroke="#666666" stroke-width="1.3"/>
<text transform="translate(294.20,338.58)" class="tk" text-anchor="end" xml:space="preserve">40.00</text>
<line x1="298.70" y1="318.50" x2="301.30" y2="318.50" stroke="#666666" stroke-width="1.3"/>
<text transform="translate(294.20,321.20)" class="tk" text-anchor="end" xml:space="preserve">50.00</text>
<line x1="509.50" y1="405.40" x2="512.10" y2="405.40" stroke="#666666" stroke-width="1.3"/>
<text transform="translate(515.50,408.20)" class="tk" xml:space="preserve">0.00</text>
<line x1="509.50" y1="392.99" x2="512.10" y2="392.99" stroke="#666666" stroke-width="1.3"/>
<text transform="translate(515.50,395.79)" class="tk" xml:space="preserve">5.00</text>
<line x1="509.50" y1="380.57" x2="512.10" y2="380.57" stroke="#666666" stroke-width="1.3"/>
<text transform="translate(515.50,383.37)" class="tk" xml:space="preserve">10.00</text>
<line x1="509.50" y1="368.16" x2="512.10" y2="368.16" stroke="#666666" stroke-width="1.3"/>
<text transform="translate(515.50,370.96)" class="tk" xml:space="preserve">15.00</text>
<line x1="509.50" y1="355.74" x2="512.10" y2="355.74" stroke="#666666" stroke-width="1.3"/>
<text transform="translate(515.50,358.54)" class="tk" xml:space="preserve">20.00</text>
<line x1="509.50" y1="343.33" x2="512.10" y2="343.33" stroke="#666666" stroke-width="1.3"/>
<text transform="translate(515.50,346.13)" class="tk" xml:space="preserve">25.00</text>
<line x1="509.50" y1="330.91" x2="512.10" y2="330.91" stroke="#666666" stroke-width="1.3"/>
<text transform="translate(515.50,333.71)" class="tk" xml:space="preserve">30.00</text>
<line x1="509.50" y1="318.50" x2="512.10" y2="318.50" stroke="#666666" stroke-width="1.3"/>
<text transform="translate(515.50,321.30)" class="tk" xml:space="preserve">35.00</text>
<text transform="translate(313.07,417.50)" class="tk" text-anchor="middle" xml:space="preserve">5–30</text>
<text transform="translate(336.20,417.50)" class="tk" text-anchor="middle" xml:space="preserve">6–10</text>
<text transform="translate(359.33,417.50)" class="tk" text-anchor="middle" xml:space="preserve">6–20</text>
<text transform="translate(382.47,417.50)" class="tk" text-anchor="middle" xml:space="preserve">6–30</text>
<text transform="translate(405.60,417.50)" class="tk" text-anchor="middle" xml:space="preserve">7–31</text>
<text transform="translate(428.73,417.50)" class="tk" text-anchor="middle" xml:space="preserve">8–30</text>
<text transform="translate(451.87,417.50)" class="tk" text-anchor="middle" xml:space="preserve">9–29</text>
<text transform="translate(475.00,417.50)" class="tk" text-anchor="middle" xml:space="preserve">10–29</text>
<text transform="translate(498.13,417.50)" class="tk" text-anchor="middle" xml:space="preserve">11–29</text>
<path d="M312.87,347.30 L336.00,340.35 L359.13,333.15 L382.27,336.38 L405.40,330.17 L428.53,332.90 L451.67,332.16 L474.80,352.76 L497.93,368.41" fill="none" stroke="#000" stroke-width="1.22" stroke-dasharray="2.7,1.7"/>
<line x1="382.27" y1="398.80" x2="382.27" y2="395.32" stroke="#000" stroke-width="1.2"/>
<line x1="380.47" y1="398.80" x2="384.07" y2="398.80" stroke="#000" stroke-width="1.15"/>
<line x1="380.47" y1="395.32" x2="384.07" y2="395.32" stroke="#000" stroke-width="1.15"/>
<line x1="405.40" y1="374.81" x2="405.40" y2="371.34" stroke="#000" stroke-width="1.2"/>
<line x1="403.60" y1="374.81" x2="407.20" y2="374.81" stroke="#000" stroke-width="1.15"/>
<line x1="403.60" y1="371.34" x2="407.20" y2="371.34" stroke="#000" stroke-width="1.15"/>
<line x1="428.53" y1="369.77" x2="428.53" y2="356.56" stroke="#000" stroke-width="1.2"/>
<line x1="426.73" y1="369.77" x2="430.33" y2="369.77" stroke="#000" stroke-width="1.15"/>
<line x1="426.73" y1="356.56" x2="430.33" y2="356.56" stroke="#000" stroke-width="1.15"/>
<line x1="451.67" y1="355.00" x2="451.67" y2="341.27" stroke="#000" stroke-width="1.2"/>
<line x1="449.87" y1="355.00" x2="453.47" y2="355.00" stroke="#000" stroke-width="1.15"/>
<line x1="449.87" y1="341.27" x2="453.47" y2="341.27" stroke="#000" stroke-width="1.15"/>
<line x1="474.80" y1="346.31" x2="474.80" y2="329.62" stroke="#000" stroke-width="1.2"/>
<line x1="473.00" y1="346.31" x2="476.60" y2="346.31" stroke="#000" stroke-width="1.15"/>
<line x1="473.00" y1="329.62" x2="476.60" y2="329.62" stroke="#000" stroke-width="1.15"/>
<line x1="497.93" y1="338.49" x2="497.93" y2="325.28" stroke="#000" stroke-width="1.2"/>
<line x1="496.13" y1="338.49" x2="499.73" y2="338.49" stroke="#000" stroke-width="1.15"/>
<line x1="496.13" y1="325.28" x2="499.73" y2="325.28" stroke="#000" stroke-width="1.15"/>
<polyline points="312.87,405.40 336.00,405.40 359.13,403.14 382.27,397.06 405.40,373.07 428.53,363.34 451.67,348.22 474.80,337.97 497.93,332.40" fill="none" stroke="#000" stroke-width="1.32" stroke-linejoin="round"/>
<polygon points="312.87,402.98 315.42,407.95 310.32,407.95" fill="#000"/>
<polygon points="336.00,402.98 338.55,407.95 333.45,407.95" fill="#000"/>
<polygon points="359.13,400.72 361.68,405.69 356.58,405.69" fill="#000"/>
<polygon points="382.27,394.64 384.82,399.61 379.72,399.61" fill="#000"/>
<polygon points="405.40,370.65 407.95,375.62 402.85,375.62" fill="#000"/>
<polygon points="428.53,360.92 431.08,365.89 425.98,365.89" fill="#000"/>
<polygon points="451.67,345.80 454.22,350.77 449.12,350.77" fill="#000"/>
<polygon points="474.80,335.54 477.35,340.52 472.25,340.52" fill="#000"/>
<polygon points="497.93,329.98 500.48,334.95 495.38,334.95" fill="#000"/>
<line x1="305.30" y1="306.20" x2="324.70" y2="306.20" stroke="#000" stroke-width="1.4"/>
<polygon points="314.80,303.78 317.35,308.75 312.25,308.75" fill="#000"/>
<text transform="translate(326.60,309.00)" class="lg" textLength="69.60" lengthAdjust="spacing" xml:space="preserve">Disease index of tuber</text>
<line x1="408.70" y1="306.20" x2="428.20" y2="306.20" stroke="#000" stroke-width="1.4" stroke-dasharray="2.7,1.7"/>
<text transform="translate(431.00,309.00)" class="lg" textLength="70.00" lengthAdjust="spacing" xml:space="preserve">Average temperature</text>
<text transform="translate(408.80,429.30)" class="tt" text-anchor="middle" textLength="56.20" lengthAdjust="spacing" xml:space="preserve">2021 Nanchang</text>
<text transform="translate(272.40,362.40) rotate(-90)" class="at2" text-anchor="middle" textLength="45.10" lengthAdjust="spacing" xml:space="preserve">Disease  index</text>
<text transform="translate(542.00,360.20) rotate(-90)" class="at" text-anchor="middle" textLength="56.80" lengthAdjust="spacing" xml:space="preserve">Temperature (°C)</text>
<text x="275" y="453.1" text-anchor="middle" class="cap">(a)</text>
</g>
</svg>
</body></html>
